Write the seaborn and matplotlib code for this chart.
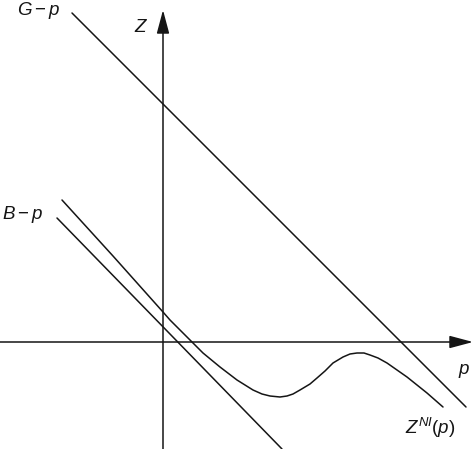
import matplotlib

matplotlib.use("Agg")
import matplotlib.pyplot as plt
import seaborn as sns

# 示意圖資料（座標原點 = 兩軸交點，單位約等於像素）
g_x = [-91, 303]
g_y = [329, -65]

b_x = [-106, 119]
b_y = [124, -107]

z_x = [-101, -50, 0, 7, 18, 29, 40, 57, 74, 90, 99, 107, 117, 124, 130, 137, 147,
       154, 162, 170, 180, 187, 194, 201, 207, 215, 224, 234, 244, 254, 264, 280]
z_y = [142, 86, 30, 22, 11, 0, -11, -25, -38, -48, -52, -54, -55, -54, -52, -48, -42,
       -36, -29, -21, -15, -12, -11, -11, -13, -16, -21, -28, -35, -43, -51, -65]

sns.set_theme(style="white")
plt.rcParams["font.family"] = ["Liberation Sans", "DejaVu Sans"]
plt.rcParams["mathtext.fontset"] = "custom"
plt.rcParams["mathtext.it"] = "Liberation Sans:italic"
plt.rcParams["mathtext.rm"] = "Liberation Sans"
plt.rcParams["mathtext.sf"] = "Liberation Sans"

ink = "#151515"

fig = plt.figure(figsize=(4.74, 4.49), dpi=100)
ax = fig.add_axes([0, 0, 1, 1])
ax.set_xlim(-163, 311)
ax.set_ylim(-107, 342)
ax.axis("off")

# 座標軸（帶箭頭）
arrow = dict(arrowstyle="-|>,head_length=1.2,head_width=0.32", color=ink, lw=1.1,
             shrinkA=0, shrinkB=0)
ax.annotate("", xy=(0, 332), xytext=(0, -107), arrowprops=arrow)
ax.annotate("", xy=(310, 0), xytext=(-163, 0), arrowprops=arrow)

# 三條曲線
sns.lineplot(x=g_x, y=g_y, color=ink, lw=1.1, ax=ax, sort=False, estimator=None)
sns.lineplot(x=b_x, y=b_y, color=ink, lw=1.1, ax=ax, sort=False, estimator=None)
sns.lineplot(x=z_x, y=z_y, color=ink, lw=1.1, ax=ax, sort=False, estimator=None)
for line in ax.get_lines():
    line.set_solid_joinstyle("round")

# 標籤
fs = 13.5
ax.text(-146, 327, r"$G-p$", fontsize=fs, ha="left", va="baseline", color=ink)
ax.text(-22, 310, r"$Z$", fontsize=fs, ha="center", va="baseline", color=ink)
ax.text(-161, 123, r"$B-p$", fontsize=fs, ha="left", va="baseline", color=ink)
ax.text(301, -32, r"$p$", fontsize=fs, ha="center", va="baseline", color=ink)
ax.text(242, -92, r"$Z^{NI}(p)$", fontsize=fs, ha="left", va="baseline", color=ink)

fig.savefig("out.png", dpi=100)
